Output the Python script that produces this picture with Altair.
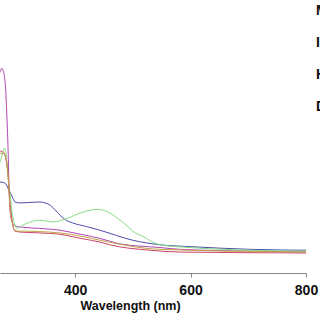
import altair as alt
import pandas as pd

# Wavelength (nm) / absorbance readings per series
m_wl = [262, 270, 273.5, 275, 279, 282, 284, 285.5, 287.5, 291, 296, 305, 339, 374, 391, 414, 443, 460, 478, 547, 582, 703, 800]
m_ab = [2.05, 2.21, 2.25, 2.23, 2.09, 1.71, 1.35, 0.97, 0.69, 0.56, 0.52, 0.505, 0.49, 0.47, 0.45, 0.42, 0.38, 0.35, 0.32, 0.28, 0.26, 0.24, 0.23]

i_wl = [262, 270, 278.5, 284, 291, 296, 305, 322, 339, 348, 357, 366, 374, 382, 396, 420, 443, 500, 547, 599, 703, 800]
i_ab = [1.02, 1.00, 0.99, 0.93, 0.84, 0.78, 0.77, 0.775, 0.78, 0.77, 0.745, 0.69, 0.635, 0.59, 0.55, 0.51, 0.47, 0.36, 0.31, 0.29, 0.26, 0.25]

h_wl = [262, 270, 278.5, 284, 287.5, 291, 296, 299.5, 305, 322, 339, 362, 386, 414, 438, 460, 478, 490, 500, 518, 547, 599, 703, 800]
h_ab = [1.12, 1.22, 1.37, 1.05, 0.86, 0.66, 0.53, 0.49, 0.51, 0.56, 0.58, 0.56, 0.60, 0.67, 0.70, 0.66, 0.58, 0.52, 0.46, 0.40, 0.31, 0.28, 0.25, 0.24]

d_wl = [262, 270, 275, 280.5, 284, 287.5, 291, 292.5, 296, 305, 322, 356, 374, 391, 414, 443, 460, 530, 582, 800]
d_ab = [1.30, 1.34, 1.33, 1.24, 1.08, 0.75, 0.58, 0.52, 0.46, 0.45, 0.445, 0.435, 0.425, 0.405, 0.375, 0.34, 0.31, 0.25, 0.23, 0.22]

e_wl = [262, 270, 273.5, 277, 280.5, 282, 285.5, 287.5, 291, 292.5, 296, 299.5, 305, 339, 374, 414, 443, 547, 800]
e_ab = [1.28, 1.32, 1.31, 1.32, 1.26, 1.21, 0.91, 0.69, 0.56, 0.51, 0.47, 0.46, 0.46, 0.455, 0.44, 0.40, 0.36, 0.26, 0.23]

series = ["M", "I", "H", "D", "E"]
colors = ["#b048b0", "#4c4ca8", "#86dc86", "#cc4468", "#c0a448"]
legend_vals = ["M", "I", "H", "D"]

rows = []
for name, wl, ab in [("M", m_wl, m_ab), ("I", i_wl, i_ab), ("H", h_wl, h_ab),
                     ("D", d_wl, d_ab), ("E", e_wl, e_ab)]:
    for w, a in zip(wl, ab):
        rows.append({"series": name, "wl": w, "abs": a})
df = pd.DataFrame(rows)

chart = alt.Chart(df).mark_line(clip=True, strokeWidth=1.0, interpolate="monotone").encode(
    x=alt.X("wl:Q", scale=alt.Scale(domain=[270, 800], nice=False, zero=False),
            axis=alt.Axis(values=[400, 600, 800], title="Wavelength (nm)", grid=False,
                          domainColor="#888888", tickColor="#888888", tickSize=4,
                          labelFlush=False,
                          labelFont="Liberation Sans", labelFontSize=14, labelFontWeight="bold",
                          labelColor="#111111", labelPadding=6,
                          titleFont="Liberation Sans", titleFontSize=12.5, titleFontWeight="bold",
                          titleColor="#111111", titleX=130, titleY=26, titleAnchor="middle",
                          titleBaseline="top")),
    y=alt.Y("abs:Q", scale=alt.Scale(domain=[0, 3], nice=False), axis=None),
    color=alt.Color("series:N", scale=alt.Scale(domain=series, range=colors),
                    legend=alt.Legend(values=legend_vals, orient="none", legendX=300, legendY=4,
                                      title=None, symbolSize=0, symbolStrokeWidth=0, symbolOpacity=0,
                                      labelFont="Liberation Sans", labelFontSize=14,
                                      labelFontWeight="bold", labelColor="#111111",
                                      rowPadding=18, labelOffset=2)),
    detail="series:N",
).properties(
    width=306, height=273,
    autosize=alt.AutoSizeParams(type="none"),
    padding={"left": 0, "top": 0, "right": 14, "bottom": 47},
).configure_view(stroke=None)

chart.save("out.html", embed_options={"renderer": "svg", "actions": False})
